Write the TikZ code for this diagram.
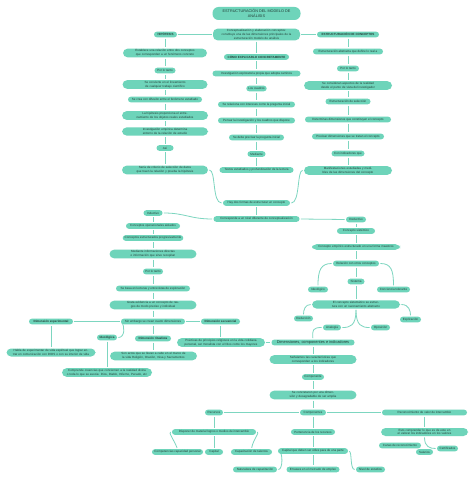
\documentclass[tikz,border=0pt]{standalone}
\usepackage{fontspec}
\setmainfont{Liberation Sans}
\usetikzlibrary{backgrounds}
\definecolor{nodefill}{RGB}{110,212,186}
\definecolor{linec}{RGB}{125,214,192}
\definecolor{txt}{RGB}{35,62,55}
\tikzset{
  n/.style={fill=nodefill, rounded corners=2.8pt, inner xsep=2pt, inner ysep=1.1pt,
    minimum height=5.6pt, font=\fontsize{3}{3.6}\selectfont, text=txt, align=center},
  m/.style={n, rounded corners=4.5pt, text width=#1},
  hb/.style={n, font=\fontsize{3}{3.6}\selectfont\bfseries},
  big/.style={n, font=\fontsize{3.9}{4.6}\selectfont},
  ln/.style={draw=linec, line width=0.8pt, shorten >=1.2pt, shorten <=1.2pt},
}
\begin{document}
\begin{tikzpicture}[x=1pt,y=-1pt]
\useasboundingbox (0,0) rectangle (474,481);

% ---------------- top
\node[n, font=\fontsize{3.8}{4.5}\selectfont, rounded corners=6pt, minimum width=88pt, minimum height=13pt] (title) at (256.5,13.5) {ESTRUCTURACIÓN DEL MODELO DE\\ANÁLISIS};
\node[m=83pt] (concept) at (256.5,34.5) {Conceptualización y elaboración conceptos:\\constituye una de las dimensiones principales de la\\estructuración modelo de análisis};
\node[hb, minimum width=23pt] (hip) at (165.5,34.5) {HIPÓTESIS};
\node[hb, minimum width=62pt] (ec) at (348,34.5) {ESTRUCTURACIÓN DE CONCEPTOS};

% ---------------- center column
\node[hb, minimum width=65pt] (como) at (256.5,57) {CÓMO EXPLICARLO CONCRETAMENTE};
\node[n, minimum width=88pt] (c1) at (256.5,73.5) {Investigación exploratoria propia que adopta caminos};
\node[n, minimum width=20pt] (c2) at (256.5,88.5) {Los cuadros};
\node[n, minimum width=77pt] (c3) at (256.5,104.5) {Se relaciona con intereses como la pregunta inicial};
\node[n, minimum width=77pt] (c4) at (256.5,120.5) {Pensar la investigación y los cuadros que dispone};
\node[n, minimum width=55pt] (c5) at (256.5,137.5) {Se debe precisar la pregunta inicial};
\node[n, minimum width=18pt] (c6) at (256.5,154) {Mediante};
\node[n, minimum width=74pt] (c7) at (256.5,170) {Textos estudiados y profundización de la lectura};
\node[n, minimum width=67pt] (c8) at (256.5,203) {Hay dos formas de estructurar un concepto};
\node[n, minimum width=86pt] (c9) at (256.5,219) {Corresponde a un nivel diferente de conceptualización};

% ---------------- left column
\node[m=80pt] (h1) at (165,53) {Establece una relación entre dos conceptos que corresponden a un fenómeno concreto};
\node[n, minimum width=21pt] (h2) at (165,70.5) {Por lo tanto};
\node[m=81pt] (h3) at (165,84.5) {Se convierte en el lineamiento de cualquier trabajo científico};
\node[n, minimum width=74pt] (h4) at (165,99.5) {Se crea con difusión entre el fenómeno estudiado};
\node[m=82pt] (h5) at (165,115.5) {La hipótesis proporciona el entrenamiento de los objetos reales estudiados};
\node[m=82pt] (h6) at (165,131.5) {Investigación empírica determina entorno de la relación de estudio};
\node[n, minimum width=17pt] (h7) at (165,148) {Así};
\node[m=82pt] (h8) at (165,170) {Sería de criterio de selección de datos que traen la relación y prueba la hipótesis};

% ---------------- right column
\node[n, minimum width=70pt] (r1) at (348,51.5) {Estructuración abstracta que define lo real a};
\node[n, minimum width=22pt] (r2) at (348,68.5) {Por lo tanto};
\node[m=84pt] (r3) at (348,85.5) {Se consideran aspectos de la realidad desde el punto de vista del investigador};
\node[n, minimum width=45pt] (r4) at (348,101.5) {Estructuración de selección};
\node[n, minimum width=86pt] (r5) at (348,119.5) {Determinas dimensiones que constituyen el concepto};
\node[n, minimum width=72pt] (r6) at (348,136.5) {Precisar dimensiones que se tratan el concepto};
\node[n, minimum width=33pt] (r7) at (348,153.5) {Con indicadores que};
\node[m=84pt] (r8) at (348,170.5) {Manifestaciones estudiadas y medibles de las dimensiones del concepto};

% ---------------- lower left
\node[n, minimum width=19pt] (i0) at (153,213) {Inductivo};
\node[n, minimum width=54pt] (i1) at (153,226) {Conceptos operacionales aislados};
\node[n, minimum width=60pt] (i2) at (153,238) {Conceptos estructurados progresivamente};
\node[m=83pt] (i3) at (153,254) {Mediante informaciones directas o información que sirve recopilan};
\node[n, minimum width=20pt] (i4) at (153,271.5) {Por lo tanto};
\node[n, minimum width=74pt] (i5) at (153,288.5) {Se basa en lecturas y entrevistas de exploración};
\node[m=83pt] (i6) at (153,305) {Grata evidencia a un concepto de rasgos de modo preciso y individual};
\node[n, minimum width=64pt] (i7) at (153,321.5) {Sin embargo se crean cuatro dimensiones};
\node[hb, minimum width=44pt] (de) at (51,321.5) {Dimensión experimental};
\node[hb, minimum width=39pt] (ds) at (220.5,321.5) {Dimensión secuencial};
\node[hb, minimum width=36pt] (dr) at (153,338.5) {Dimensión ritualista};
\node[hb, minimum width=20pt] (dI) at (107,337.5) {Ideológica};
\node[m=85pt] (dexp) at (51,352.5) {Habla de experimentar de vida espiritual que lograr entrar en comunicación con DIOS o con su interior de vida};
\node[m=83pt] (drit) at (153.5,356) {Son actos que se llevan a cabo en el marco de la vida Religión, Oración, misa y Sacramentos};
\node[m=86pt] (dide) at (107,372.5) {Comprende creencias que conciernen a la realidad divina o toda lo que se asocia: Dios, Diablo, Infierno, Pecado, etc};
\node[m=84pt] (dsec) at (221,342.5) {Prácticas de principios religiosos en la vida cotidiana personal, ser moralista con el Dios como los mayores};
\node[big, minimum width=83pt] (dim) at (313,342.5) {Dimensiones, componentes e indicadores};

% ---------------- lower right
\node[n, minimum width=20pt] (dd) at (356,219.5) {Deductivo};
\node[n, minimum width=38pt] (d1) at (356,231) {Concepto sistémico};
\node[m=84pt] (d2) at (356,247) {Concepto empírico estructurado en una forma maestros};
\node[n, minimum width=46pt] (d3) at (356,263.5) {Relación con otros conceptos};
\node[n, minimum width=20pt] (dIdeo) at (318,289.5) {Ideológico};
\node[n, minimum width=17pt] (dSis) at (356,281.5) {Sistema};
\node[n, minimum width=33pt] (dCon) at (393.5,289.5) {Conciencia tolerante};
\node[m=84pt] (d4) at (356,304.5) {El concepto sistemático se estructura con un razonamiento abstracto};
\node[n, minimum width=19pt] (dDed) at (303.5,318.5) {Deducción};
\node[n, minimum width=21pt] (dExp) at (410.5,319.5) {Explicación};
\node[n, minimum width=18pt] (dAna) at (332,327.5) {Analogía};
\node[n, minimum width=19pt] (dOpo) at (380.5,327.5) {Oposición};

% ---------------- bottom
\node[m=83pt] (sen) at (313,359.5) {Señalamos las características que corresponden a los indicadores};
\node[n, minimum width=22pt] (comp1) at (313,377) {Componente};
\node[m=83pt] (conc) at (313,395) {Se concretaron por una dimensión y desagradable de ser amplia};
\node[n, minimum width=26pt] (comps) at (313,412.5) {Componentes};
\node[n, minimum width=18pt] (rec) at (214,412.5) {Recursos};
\node[n, minimum width=85pt] (rv) at (424.5,412.5) {Reconocimiento de valor de intercambio};
\node[n, minimum width=84pt] (disp) at (214,432) {Disponer de material logros o medios de intercambio};
\node[n, minimum width=51pt] (compet) at (177.5,452) {Competencias capacidad personal};
\node[n, minimum width=18pt] (cap) at (214,452) {Capital};
\node[n, minimum width=41pt] (capt) at (251.5,452) {Capacitación de talentos};
\node[n, minimum width=44pt] (nat) at (255,469.5) {Naturaleza de capacitación};
\node[n, minimum width=44pt] (pert) at (313,432) {Pertenencia de los recursos};
\node[n, minimum width=70pt] (capq) at (313,451) {Capital que deben ser útiles para de una parte};
\node[n, minimum width=53pt] (env) at (313,469.5) {Envases en el mercado de empleo};
\node[n, minimum width=29pt] (niv) at (370.5,469.5) {Nivel de estudios};
\node[m=83pt] (esto) at (424.5,432) {Esto comprender lo que es de este en el valorar los indicadores en los valores};
\node[n, minimum width=42pt] (canas) at (400,445.5) {Canas de reconocimiento};
\node[n, minimum width=21pt] (cert) at (447.5,448.5) {Certificados};
\node[n, minimum width=17pt] (sal) at (424.5,452) {Salarios};

% ---------------- connectors (behind the nodes)
\begin{scope}[on background layer]
\fill[white] (0,0) rectangle (474,481);
\draw[ln] (concept.west) -- (hip.east);
\draw[ln] (concept.east) -- (ec.west);
\draw[ln] (concept.south) -- (como.north);
\foreach \a/\b in {como/c1,c1/c2,c2/c3,c3/c4,c4/c5,c5/c6,c6/c7,c8/c9,
  hip/h1,h1/h2,h2/h3,h3/h4,h4/h5,h5/h6,h6/h7,h7/h8,
  ec/r1,r1/r2,r2/r3,r3/r4,r4/r5,r5/r6,r6/r7,r7/r8,
  i0/i1,i1/i2,i2/i3,i3/i4,i4/i5,i5/i6,i6/i7,i7/dr,de/dexp,dr/drit,ds/dsec,
  dd/d1,d1/d2,d2/d3,d3/dSis,dSis/d4,
  dim/sen,sen/comp1,comp1/conc,conc/comps,comps/pert,pert/capq,capq/env,
  rec/disp,disp/cap,rv/esto}
  \draw[ln] (\a.south) -- (\a.south |- \b.north);
\draw[ln] (dI.south) -- (dI.south |- dide.north);
\draw[ln] (h8.east) .. controls (216,170) and (212,203) .. (c8.west);
\draw[ln] (r8.west) .. controls (297,170) and (300,203) .. (c8.east);
\draw[ln] (c9.west) .. controls (190,219) and (185,213) .. (i0.east);
\draw[ln] (c9.east) -- (dd.west);
\draw[ln] (i7.west) -- (de.east);
\draw[ln] (i7.east) -- (ds.west);
\draw[ln] (i7.west) .. controls (125,326) and (125,337.5) .. (dI.east);
\draw[ln] (dsec.east) -- (dim.west);
\draw[ln] (d3.west) .. controls (321,263.5) and (318,270) .. (dIdeo.north);
\draw[ln] (d3.east) .. controls (391,263.5) and (393.5,270) .. (dCon.north);
\draw[ln] (d4.west) .. controls (305,304.5) and (303.5,310) .. (dDed.north);
\draw[ln] (d4.east) .. controls (409,304.5) and (410.5,311) .. (dExp.north);
\draw[ln] (d4.south) .. controls (356,326) and (350,327.5) .. (dAna.east);
\draw[ln] (d4.south) .. controls (356,326) and (362,327.5) .. (dOpo.west);
\draw[ln] (dAna.west) .. controls (313,327.5) and (312,330) .. (dim.north);
\draw[ln] (comps.west) -- (rec.east);
\draw[ln] (comps.east) -- (rv.west);
\draw[ln] (disp.west) .. controls (168,432) and (174,440) .. (compet.north);
\draw[ln] (disp.east) .. controls (260,432) and (253,440) .. (capt.north);
\draw[ln] (capq.west) .. controls (283,452) and (283,469.5) .. (nat.east);
\draw[ln] (capq.east) .. controls (352,452) and (350,469.5) .. (niv.west);
\draw[ln] (esto.south) .. controls (424.5,447) and (430,448.5) .. (cert.west);
\end{scope}
\end{tikzpicture}
\end{document}
